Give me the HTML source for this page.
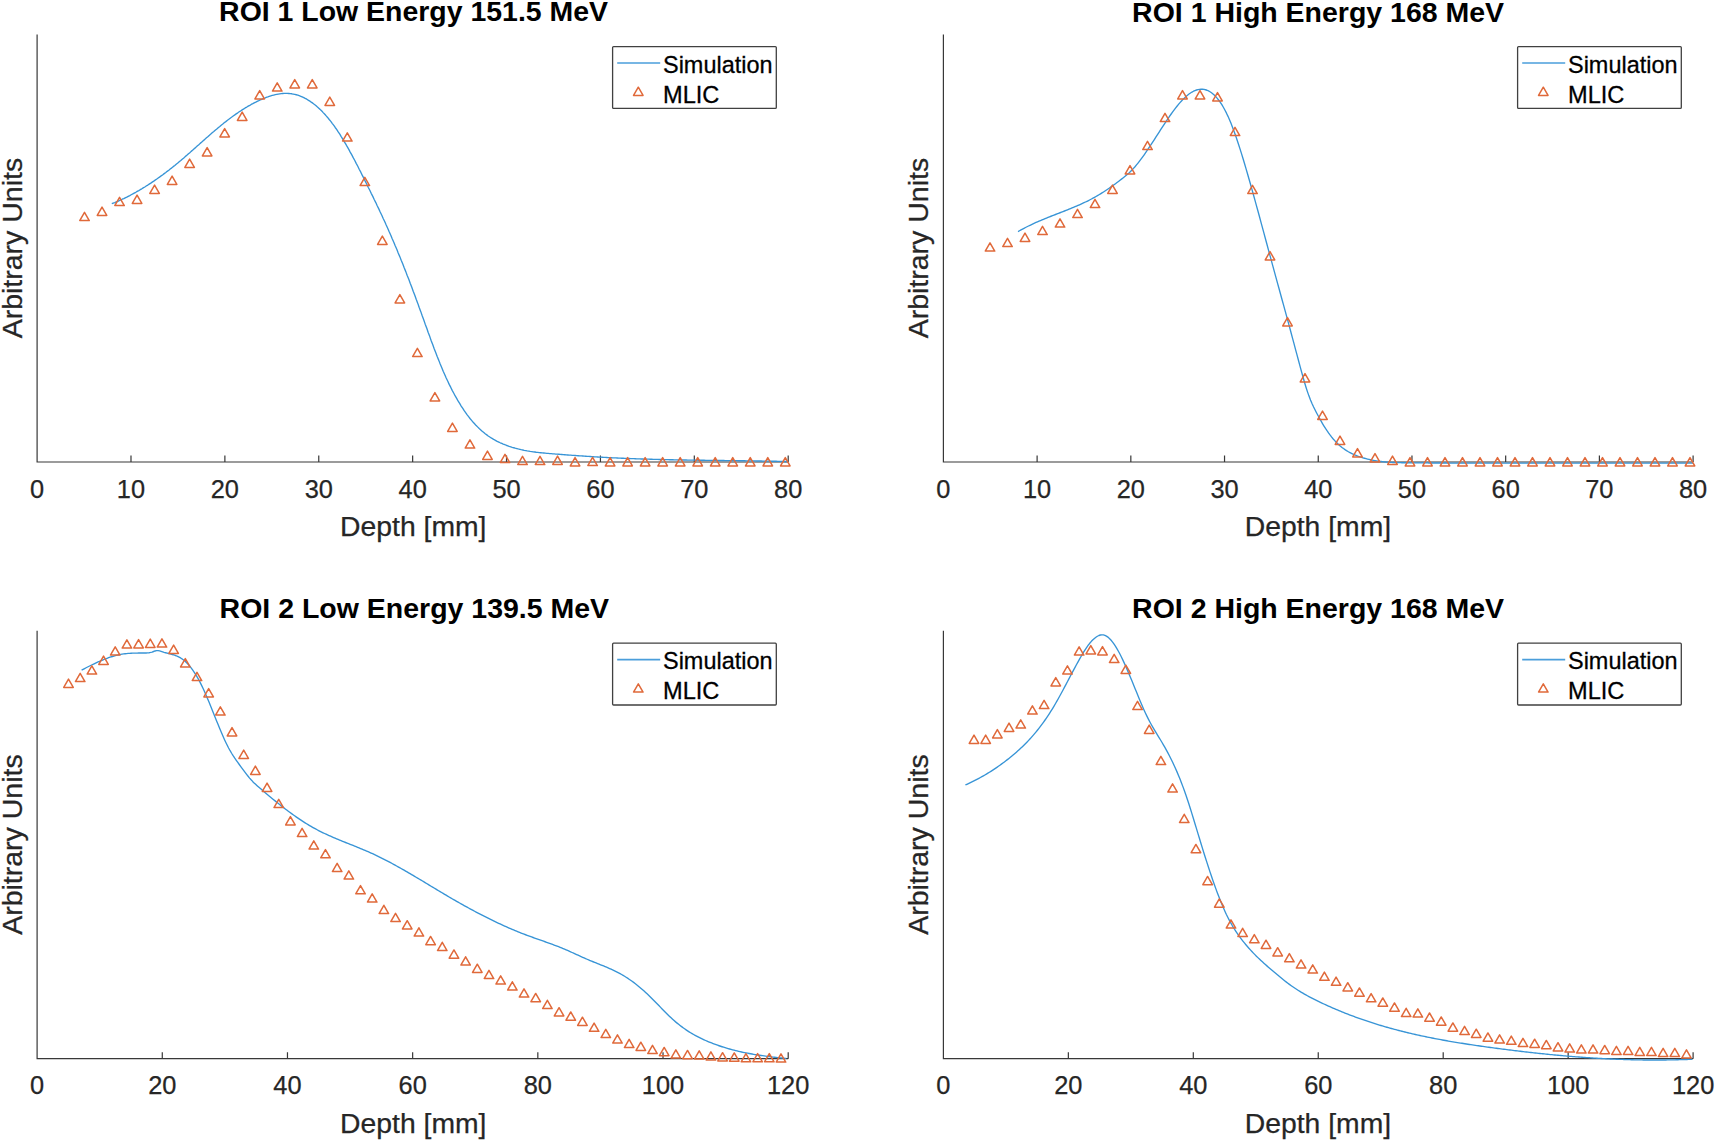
<!DOCTYPE html>
<html lang="en"><head><meta charset="utf-8"><title>Depth dose curves: Simulation vs MLIC</title>
<style>html,body{margin:0;padding:0;background:#fff;}body{width:1716px;height:1140px;overflow:hidden;}svg{display:block;}text{font-family:"Liberation Sans", sans-serif;}.tk{font-size:25.4px;fill:#262626;text-anchor:middle;stroke:#262626;stroke-width:0.25;}.lb{font-size:27.5px;fill:#262626;text-anchor:middle;stroke:#262626;stroke-width:0.25;}.tt{font-size:27.5px;font-weight:bold;fill:#000;}.lg{font-size:24.5px;fill:#000;stroke:#000;stroke-width:0.3;}.ll{stroke:#4a9edb;stroke-width:1.7;fill:none;}.ax{stroke:#383838;stroke-width:1.2;fill:none;}.cv{stroke:#3794d6;stroke-width:1.35;fill:none;stroke-linejoin:round;}.mk{stroke:#e0693a;stroke-width:1.5;fill:none;stroke-linejoin:round;}</style></head><body>
<svg width="1716" height="1140" viewBox="0 0 1716 1140">
<rect width="1716" height="1140" fill="#fff"/>
<g>
<path class="ax" d="M37.10 34.50 V462.00 H788.20"/>
<path class="ax" d="M130.99 462.00 v-6.5M224.88 462.00 v-6.5M318.76 462.00 v-6.5M412.65 462.00 v-6.5M506.54 462.00 v-6.5M600.43 462.00 v-6.5M694.31 462.00 v-6.5M788.20 462.00 v-6.5"/>
<text class="tk" x="37.10" y="497.60">0</text>
<text class="tk" x="130.99" y="497.60">10</text>
<text class="tk" x="224.88" y="497.60">20</text>
<text class="tk" x="318.76" y="497.60">30</text>
<text class="tk" x="412.65" y="497.60">40</text>
<text class="tk" x="506.54" y="497.60">50</text>
<text class="tk" x="600.43" y="497.60">60</text>
<text class="tk" x="694.31" y="497.60">70</text>
<text class="tk" x="788.20" y="497.60">80</text>
<text class="lb" x="413.25" y="536.30" textLength="146.4" lengthAdjust="spacingAndGlyphs">Depth [mm]</text>
<text class="lb" transform="translate(22.10 248.05) rotate(-90)" textLength="180.5" lengthAdjust="spacingAndGlyphs">Arbitrary Units</text>
<text class="tt" x="219.10" y="21.30" textLength="389.0" lengthAdjust="spacingAndGlyphs">ROI 1 Low Energy 151.5 MeV</text>
<path class="cv" d="M111.8 203.74L113.2 203.15L114.8 202.54L116.2 201.91L117.8 201.27L119.2 200.61L120.8 199.93L122.2 199.24L123.8 198.53L125.2 197.81L126.8 197.07L128.2 196.31L129.8 195.54L131.2 194.75L132.8 193.95L134.2 193.13L135.8 192.29L137.2 191.44L138.8 190.58L140.2 189.70L141.8 188.80L143.2 187.89L144.8 186.96L146.2 186.02L147.8 185.07L149.2 184.10L150.8 183.11L152.2 182.11L153.8 181.10L155.2 180.07L156.8 179.03L158.2 177.97L159.8 176.90L161.2 175.82L162.8 174.72L164.2 173.60L165.8 172.48L167.2 171.34L168.8 170.18L170.2 169.02L171.8 167.84L173.2 166.64L174.8 165.44L176.2 164.22L177.8 162.98L179.2 161.74L180.8 160.48L182.2 159.21L183.8 157.93L185.2 156.63L186.8 155.33L188.2 154.02L189.8 152.70L191.2 151.38L192.8 150.05L194.2 148.72L195.8 147.38L197.2 146.05L198.8 144.71L200.2 143.37L201.8 142.03L203.2 140.70L204.8 139.37L206.2 138.04L207.8 136.72L209.2 135.40L210.8 134.09L212.2 132.79L213.8 131.50L215.2 130.22L216.8 128.95L218.2 127.69L219.8 126.44L221.2 125.21L222.8 124.00L224.2 122.80L225.8 121.62L227.2 120.46L228.8 119.31L230.2 118.18L231.8 117.07L233.2 115.98L234.8 114.90L236.2 113.85L237.8 112.81L239.2 111.80L240.8 110.81L242.2 109.83L243.8 108.88L245.2 107.95L246.8 107.05L248.2 106.16L249.8 105.30L251.2 104.46L252.8 103.65L254.2 102.86L255.8 102.09L257.2 101.35L258.8 100.64L260.2 99.95L261.8 99.29L263.2 98.65L264.8 98.04L266.2 97.46L267.8 96.91L269.2 96.39L270.8 95.90L272.2 95.45L273.8 95.04L275.2 94.67L276.8 94.34L278.2 94.05L279.8 93.82L281.2 93.62L282.8 93.48L284.2 93.39L285.8 93.36L287.2 93.38L288.8 93.46L290.2 93.59L291.8 93.79L293.2 94.05L294.8 94.38L296.2 94.76L297.8 95.21L299.2 95.72L300.8 96.29L302.2 96.92L303.8 97.62L305.2 98.39L306.8 99.21L308.2 100.10L309.8 101.06L311.2 102.08L312.8 103.17L314.2 104.32L315.8 105.53L317.2 106.82L318.8 108.17L320.2 109.58L321.8 111.07L323.2 112.62L324.8 114.24L326.2 115.92L327.8 117.68L329.2 119.50L330.8 121.39L332.2 123.36L333.8 125.39L335.2 127.49L336.8 129.66L338.2 131.90L339.8 134.21L341.2 136.58L342.8 139.02L344.2 141.52L345.8 144.08L347.2 146.70L348.8 149.36L350.2 152.08L351.8 154.83L353.2 157.64L354.8 160.48L356.2 163.35L357.8 166.26L359.2 169.21L360.8 172.17L362.2 175.16L363.8 178.17L365.2 181.18L366.8 184.21L368.2 187.24L369.8 190.28L371.2 193.33L372.8 196.40L374.2 199.48L375.8 202.59L377.2 205.72L378.8 208.87L380.2 212.05L381.8 215.26L383.2 218.50L384.8 221.77L386.2 225.08L387.8 228.43L389.2 231.82L390.8 235.24L392.2 238.71L393.8 242.21L395.2 245.76L396.8 249.34L398.2 252.96L399.8 256.62L401.2 260.32L402.8 264.05L404.2 267.82L405.8 271.63L407.2 275.47L408.8 279.35L410.2 283.27L411.8 287.22L413.2 291.21L414.8 295.23L416.2 299.29L417.8 303.38L419.2 307.50L420.8 311.65L422.2 315.81L423.8 319.99L425.2 324.16L426.8 328.33L428.2 332.47L429.8 336.60L431.2 340.69L432.8 344.74L434.2 348.74L435.8 352.69L437.2 356.56L438.8 360.37L440.2 364.09L441.8 367.72L443.2 371.26L444.8 374.69L446.2 378.02L447.8 381.25L449.2 384.39L450.8 387.42L452.2 390.37L453.8 393.22L455.2 395.97L456.8 398.64L458.2 401.21L459.8 403.70L461.2 406.10L462.8 408.41L464.2 410.64L465.8 412.79L467.2 414.85L468.8 416.84L470.2 418.74L471.8 420.57L473.2 422.32L474.8 424.00L476.2 425.60L477.8 427.13L479.2 428.59L480.8 429.97L482.2 431.30L483.8 432.55L485.2 433.74L486.8 434.88L488.2 435.95L489.8 436.97L491.2 437.94L492.8 438.85L494.2 439.72L495.8 440.55L497.2 441.33L498.8 442.07L500.2 442.77L501.8 443.44L503.2 444.07L504.8 444.67L506.2 445.25L507.8 445.80L509.2 446.32L510.8 446.82L512.2 447.29L513.8 447.74L515.2 448.17L516.8 448.58L518.2 448.96L519.8 449.32L521.2 449.67L522.8 449.99L524.2 450.30L525.8 450.59L527.2 450.87L528.8 451.13L530.2 451.37L531.8 451.60L533.2 451.82L534.8 452.02L536.2 452.22L537.8 452.40L539.2 452.57L540.8 452.74L542.2 452.89L543.8 453.04L545.2 453.18L546.8 453.32L548.2 453.45L549.8 453.57L551.2 453.70L552.8 453.82L554.2 453.94L555.8 454.05L557.2 454.17L558.8 454.29L560.2 454.40L561.8 454.52L563.2 454.63L564.8 454.75L566.2 454.86L567.8 454.97L569.2 455.08L570.8 455.19L572.2 455.30L573.8 455.41L575.2 455.52L576.8 455.62L578.2 455.73L579.8 455.83L581.2 455.94L582.8 456.04L584.2 456.14L585.8 456.24L587.2 456.34L588.8 456.44L590.2 456.53L591.8 456.63L593.2 456.72L594.8 456.81L596.2 456.91L597.8 457.00L599.2 457.08L600.8 457.17L602.2 457.25L603.8 457.34L605.2 457.42L606.8 457.50L608.2 457.58L609.8 457.66L611.2 457.73L612.8 457.81L614.2 457.88L615.8 457.95L617.2 458.02L618.8 458.09L620.2 458.16L621.8 458.22L623.2 458.29L624.8 458.35L626.2 458.41L627.8 458.47L629.2 458.53L630.8 458.59L632.2 458.65L633.8 458.70L635.2 458.76L636.8 458.81L638.2 458.86L639.8 458.91L641.2 458.96L642.8 459.01L644.2 459.06L645.8 459.10L647.2 459.15L648.8 459.19L650.2 459.24L651.8 459.28L653.2 459.32L654.8 459.36L656.2 459.40L657.8 459.44L659.2 459.48L660.8 459.51L662.2 459.55L663.8 459.58L665.2 459.62L666.8 459.65L668.2 459.68L669.8 459.72L671.2 459.75L672.8 459.78L674.2 459.81L675.8 459.84L677.2 459.86L678.8 459.89L680.2 459.92L681.8 459.95L683.2 459.97L684.8 460.00L686.2 460.02L687.8 460.05L689.2 460.07L690.8 460.09L692.2 460.12L693.8 460.14L695.2 460.16L696.8 460.18L698.2 460.21L699.8 460.23L701.2 460.25L702.8 460.27L704.2 460.29L705.8 460.31L707.2 460.33L708.8 460.35L710.2 460.37L711.8 460.39L713.2 460.40L714.8 460.42L716.2 460.44L717.8 460.46L719.2 460.48L720.8 460.50L722.2 460.51L723.8 460.53L725.2 460.55L726.8 460.57L728.2 460.59L729.8 460.60L731.2 460.62L732.8 460.64L734.2 460.66L735.8 460.68L737.2 460.70L738.8 460.72L740.2 460.73L741.8 460.75L743.2 460.77L744.8 460.79L746.2 460.81L747.8 460.83L749.2 460.85L750.8 460.87L752.2 460.89L753.8 460.92L755.2 460.94L756.8 460.96L758.2 460.98L759.8 461.01L761.2 461.03L762.8 461.05L764.2 461.08L765.8 461.10L767.2 461.13L768.8 461.15L770.2 461.18L771.8 461.21L773.2 461.24L774.8 461.26L776.2 461.29L777.8 461.32L779.2 461.35L780.8 461.38L782.2 461.42L783.8 461.45L785.2 461.48L786.8 461.52L787.5 461.53"/>
<path class="mk" d="M84.50 212.38 L89.26 220.62 L79.74 220.62 ZM102.02 207.12 L106.78 215.38 L97.26 215.38 ZM119.54 197.38 L124.30 205.62 L114.78 205.62 ZM137.06 195.12 L141.82 203.38 L132.30 203.38 ZM154.58 185.12 L159.34 193.38 L149.82 193.38 ZM172.10 176.12 L176.86 184.38 L167.34 184.38 ZM189.62 159.12 L194.38 167.38 L184.86 167.38 ZM207.14 147.62 L211.90 155.88 L202.38 155.88 ZM224.66 128.62 L229.42 136.88 L219.90 136.88 ZM242.18 112.12 L246.94 120.38 L237.42 120.38 ZM259.70 90.62 L264.46 98.88 L254.94 98.88 ZM277.22 82.88 L281.98 91.12 L272.46 91.12 ZM294.74 79.62 L299.50 87.88 L289.98 87.88 ZM312.26 79.62 L317.02 87.88 L307.50 87.88 ZM329.78 97.12 L334.54 105.38 L325.02 105.38 ZM347.30 132.88 L352.06 141.12 L342.54 141.12 ZM364.82 177.38 L369.58 185.62 L360.06 185.62 ZM382.34 236.12 L387.10 244.38 L377.58 244.38 ZM399.86 294.62 L404.62 302.88 L395.10 302.88 ZM417.38 348.38 L422.14 356.62 L412.62 356.62 ZM434.90 392.62 L439.66 400.88 L430.14 400.88 ZM452.42 423.12 L457.18 431.38 L447.66 431.38 ZM469.94 439.88 L474.70 448.12 L465.18 448.12 ZM487.46 451.12 L492.22 459.38 L482.70 459.38 ZM504.98 454.38 L509.74 462.62 L500.22 462.62 ZM522.50 456.38 L527.26 464.62 L517.74 464.62 ZM540.02 456.38 L544.78 464.62 L535.26 464.62 ZM557.54 456.12 L562.30 464.38 L552.78 464.38 ZM575.06 457.62 L579.82 465.88 L570.30 465.88 ZM592.58 457.38 L597.34 465.62 L587.82 465.62 ZM610.10 457.62 L614.86 465.88 L605.34 465.88 ZM627.62 457.62 L632.38 465.88 L622.86 465.88 ZM645.14 457.62 L649.90 465.88 L640.38 465.88 ZM662.66 457.62 L667.42 465.88 L657.90 465.88 ZM680.18 457.62 L684.94 465.88 L675.42 465.88 ZM697.70 457.62 L702.46 465.88 L692.94 465.88 ZM715.22 457.62 L719.98 465.88 L710.46 465.88 ZM732.74 457.62 L737.50 465.88 L727.98 465.88 ZM750.26 457.62 L755.02 465.88 L745.50 465.88 ZM767.78 457.62 L772.54 465.88 L763.02 465.88 ZM785.30 457.62 L790.06 465.88 L780.54 465.88 Z"/>
<rect x="612.60" y="46.60" width="163.7" height="61.8" rx="1" fill="#fff" stroke="#404040" stroke-width="1.3"/>
<path class="ll" d="M617.20 63.00 h43"/>
<path class="mk" d="M638.30 87.18 L643.06 95.43 L633.54 95.43 Z"/>
<text class="lg" x="663.00" y="72.60" textLength="109.5" lengthAdjust="spacingAndGlyphs">Simulation</text>
<text class="lg" x="663.00" y="102.60" textLength="56.3" lengthAdjust="spacingAndGlyphs">MLIC</text>
</g>
<g>
<path class="ax" d="M943.40 34.50 V462.00 H1693.10"/>
<path class="ax" d="M1037.11 462.00 v-6.5M1130.83 462.00 v-6.5M1224.54 462.00 v-6.5M1318.25 462.00 v-6.5M1411.96 462.00 v-6.5M1505.67 462.00 v-6.5M1599.39 462.00 v-6.5M1693.10 462.00 v-6.5"/>
<text class="tk" x="943.40" y="497.60">0</text>
<text class="tk" x="1037.11" y="497.60">10</text>
<text class="tk" x="1130.83" y="497.60">20</text>
<text class="tk" x="1224.54" y="497.60">30</text>
<text class="tk" x="1318.25" y="497.60">40</text>
<text class="tk" x="1411.96" y="497.60">50</text>
<text class="tk" x="1505.67" y="497.60">60</text>
<text class="tk" x="1599.39" y="497.60">70</text>
<text class="tk" x="1693.10" y="497.60">80</text>
<text class="lb" x="1317.95" y="536.30" textLength="146.4" lengthAdjust="spacingAndGlyphs">Depth [mm]</text>
<text class="lb" transform="translate(928.40 248.05) rotate(-90)" textLength="180.5" lengthAdjust="spacingAndGlyphs">Arbitrary Units</text>
<text class="tt" x="1132.10" y="21.90" textLength="372.0" lengthAdjust="spacingAndGlyphs">ROI 1 High Energy 168 MeV</text>
<path class="cv" d="M1018.0 231.65L1019.5 230.78L1021.0 229.94L1022.5 229.11L1024.0 228.31L1025.5 227.52L1027.0 226.76L1028.5 226.00L1030.0 225.27L1031.5 224.55L1033.0 223.85L1034.5 223.16L1036.0 222.48L1037.5 221.82L1039.0 221.17L1040.5 220.52L1042.0 219.89L1043.5 219.27L1045.0 218.65L1046.5 218.04L1048.0 217.44L1049.5 216.84L1051.0 216.25L1052.5 215.66L1054.0 215.08L1055.5 214.50L1057.0 213.91L1058.5 213.33L1060.0 212.75L1061.5 212.17L1063.0 211.59L1064.5 211.00L1066.0 210.41L1067.5 209.81L1069.0 209.21L1070.5 208.60L1072.0 207.99L1073.5 207.37L1075.0 206.74L1076.5 206.10L1078.0 205.45L1079.5 204.79L1081.0 204.11L1082.5 203.42L1084.0 202.72L1085.5 202.01L1087.0 201.28L1088.5 200.53L1090.0 199.77L1091.5 198.99L1093.0 198.19L1094.5 197.36L1096.0 196.52L1097.5 195.66L1099.0 194.78L1100.5 193.87L1102.0 192.94L1103.5 191.99L1105.0 191.01L1106.5 190.02L1108.0 189.01L1109.5 187.97L1111.0 186.92L1112.5 185.85L1114.0 184.77L1115.5 183.67L1117.0 182.55L1118.5 181.42L1120.0 180.28L1121.5 179.13L1123.0 177.96L1124.5 176.77L1126.0 175.53L1127.5 174.25L1129.0 172.90L1130.5 171.48L1132.0 169.98L1133.5 168.38L1135.0 166.69L1136.5 164.92L1138.0 163.08L1139.5 161.16L1141.0 159.18L1142.5 157.14L1144.0 155.04L1145.5 152.90L1147.0 150.71L1148.5 148.48L1150.0 146.22L1151.5 143.94L1153.0 141.63L1154.5 139.30L1156.0 136.97L1157.5 134.63L1159.0 132.29L1160.5 129.95L1162.0 127.63L1163.5 125.32L1165.0 123.04L1166.5 120.79L1168.0 118.56L1169.5 116.38L1171.0 114.24L1172.5 112.15L1174.0 110.12L1175.5 108.15L1177.0 106.24L1178.5 104.41L1180.0 102.65L1181.5 100.98L1183.0 99.39L1184.5 97.90L1186.0 96.51L1187.5 95.22L1189.0 94.04L1190.5 92.98L1192.0 92.04L1193.5 91.23L1195.0 90.55L1196.5 90.00L1198.0 89.59L1199.5 89.32L1201.0 89.20L1202.5 89.23L1204.0 89.41L1205.5 89.75L1207.0 90.25L1208.5 90.91L1210.0 91.74L1211.5 92.75L1213.0 93.93L1214.5 95.30L1216.0 96.85L1217.5 98.58L1219.0 100.51L1220.5 102.64L1222.0 104.96L1223.5 107.49L1225.0 110.23L1226.5 113.17L1228.0 116.34L1229.5 119.72L1231.0 123.32L1232.5 127.13L1234.0 131.14L1235.5 135.33L1237.0 139.69L1238.5 144.20L1240.0 148.86L1241.5 153.64L1243.0 158.53L1244.5 163.53L1246.0 168.62L1247.5 173.77L1249.0 178.99L1250.5 184.26L1252.0 189.59L1253.5 194.96L1255.0 200.37L1256.5 205.81L1258.0 211.29L1259.5 216.79L1261.0 222.32L1262.5 227.85L1264.0 233.40L1265.5 238.96L1267.0 244.51L1268.5 250.07L1270.0 255.61L1271.5 261.14L1273.0 266.65L1274.5 272.14L1276.0 277.61L1277.5 283.08L1279.0 288.54L1280.5 293.99L1282.0 299.45L1283.5 304.91L1285.0 310.39L1286.5 315.88L1288.0 321.38L1289.5 326.92L1291.0 332.48L1292.5 338.07L1294.0 343.69L1295.5 349.31L1297.0 354.93L1298.5 360.52L1300.0 366.08L1301.5 371.59L1303.0 377.00L1304.5 382.24L1306.0 387.22L1307.5 391.87L1309.0 396.11L1310.5 399.97L1312.0 403.50L1313.5 406.76L1315.0 409.81L1316.5 412.71L1318.0 415.52L1319.5 418.26L1321.0 420.94L1322.5 423.54L1324.0 426.04L1325.5 428.45L1327.0 430.74L1328.5 432.91L1330.0 434.96L1331.5 436.89L1333.0 438.70L1334.5 440.40L1336.0 442.00L1337.5 443.50L1339.0 444.89L1340.5 446.20L1342.0 447.42L1343.5 448.56L1345.0 449.62L1346.5 450.60L1348.0 451.52L1349.5 452.37L1351.0 453.15L1352.5 453.89L1354.0 454.57L1355.5 455.21L1357.0 455.80L1358.5 456.36L1360.0 456.88L1361.5 457.37L1363.0 457.83L1364.5 458.27L1366.0 458.68L1367.5 459.06L1369.0 459.42L1370.5 459.76L1372.0 460.07L1373.5 460.35L1375.0 460.62L1376.5 460.87L1378.0 461.09L1379.5 461.30L1381.0 461.49L1382.5 461.66L1384.0 461.82L1385.5 461.96L1387.0 462.08L1388.5 462.19L1390.0 462.29L1391.5 462.38L1393.0 462.46L1394.5 462.52L1396.0 462.58L1397.5 462.63L1399.0 462.67L1400.5 462.70L1402.0 462.73L1403.5 462.75L1405.0 462.77L1406.5 462.79L1408.0 462.80L1409.5 462.81L1411.0 462.83L1412.5 462.84L1414.0 462.85L1415.5 462.86L1417.0 462.87L1418.5 462.88L1420.0 462.89L1421.5 462.90L1423.0 462.91L1424.5 462.92L1426.0 462.93L1427.5 462.94L1429.0 462.95L1430.5 462.96L1432.0 462.97L1433.5 462.97L1435.0 462.98L1436.5 462.99L1438.0 463.00L1439.5 463.00L1441.0 463.01L1442.5 463.02L1444.0 463.03L1445.5 463.03L1447.0 463.04L1448.5 463.04L1450.0 463.05L1451.5 463.06L1453.0 463.06L1454.5 463.07L1456.0 463.07L1457.5 463.08L1459.0 463.08L1460.5 463.09L1462.0 463.09L1463.5 463.10L1465.0 463.10L1466.5 463.10L1468.0 463.11L1469.5 463.11L1471.0 463.12L1472.5 463.12L1474.0 463.12L1475.5 463.13L1477.0 463.13L1478.5 463.13L1480.0 463.13L1481.5 463.14L1483.0 463.14L1484.5 463.14L1486.0 463.14L1487.5 463.14L1489.0 463.15L1490.5 463.15L1492.0 463.15L1493.5 463.15L1495.0 463.15L1496.5 463.15L1498.0 463.16L1499.5 463.16L1501.0 463.16L1502.5 463.16L1504.0 463.16L1505.5 463.16L1507.0 463.16L1508.5 463.16L1510.0 463.16L1511.5 463.16L1513.0 463.16L1514.5 463.16L1516.0 463.16L1517.5 463.16L1519.0 463.16L1520.5 463.16L1522.0 463.16L1523.5 463.16L1525.0 463.16L1526.5 463.16L1528.0 463.16L1529.5 463.15L1531.0 463.15L1532.5 463.15L1534.0 463.15L1535.5 463.15L1537.0 463.15L1538.5 463.15L1540.0 463.15L1541.5 463.15L1543.0 463.14L1544.5 463.14L1546.0 463.14L1547.5 463.14L1549.0 463.14L1550.5 463.14L1552.0 463.13L1553.5 463.13L1555.0 463.13L1556.5 463.13L1558.0 463.13L1559.5 463.13L1561.0 463.12L1562.5 463.12L1564.0 463.12L1565.5 463.12L1567.0 463.12L1568.5 463.11L1570.0 463.11L1571.5 463.11L1573.0 463.11L1574.5 463.11L1576.0 463.11L1577.5 463.10L1579.0 463.10L1580.5 463.10L1582.0 463.10L1583.5 463.10L1585.0 463.09L1586.5 463.09L1588.0 463.09L1589.5 463.09L1591.0 463.09L1592.5 463.08L1594.0 463.08L1595.5 463.08L1597.0 463.08L1598.5 463.08L1600.0 463.08L1601.5 463.07L1603.0 463.07L1604.5 463.07L1606.0 463.07L1607.5 463.07L1609.0 463.07L1610.5 463.07L1612.0 463.07L1613.5 463.06L1615.0 463.06L1616.5 463.06L1618.0 463.06L1619.5 463.06L1621.0 463.06L1622.5 463.06L1624.0 463.06L1625.5 463.06L1627.0 463.06L1628.5 463.06L1630.0 463.06L1631.5 463.06L1633.0 463.06L1634.5 463.05L1636.0 463.05L1637.5 463.05L1639.0 463.06L1640.5 463.06L1642.0 463.06L1643.5 463.06L1645.0 463.06L1646.5 463.06L1648.0 463.06L1649.5 463.06L1651.0 463.06L1652.5 463.06L1654.0 463.06L1655.5 463.06L1657.0 463.07L1658.5 463.07L1660.0 463.07L1661.5 463.07L1663.0 463.07L1664.5 463.07L1666.0 463.08L1667.5 463.08L1669.0 463.08L1670.5 463.08L1672.0 463.09L1673.5 463.09L1675.0 463.09L1676.5 463.10L1678.0 463.10L1679.5 463.10L1681.0 463.11L1682.5 463.11L1684.0 463.12L1685.5 463.12L1687.0 463.12L1688.5 463.13L1690.0 463.13L1691.5 463.14L1693.0 463.14"/>
<path class="mk" d="M990.00 242.88 L994.76 251.12 L985.24 251.12 ZM1007.50 238.38 L1012.26 246.62 L1002.74 246.62 ZM1025.00 233.12 L1029.76 241.38 L1020.24 241.38 ZM1042.50 226.38 L1047.26 234.62 L1037.74 234.62 ZM1060.00 218.88 L1064.76 227.12 L1055.24 227.12 ZM1077.50 209.38 L1082.26 217.62 L1072.74 217.62 ZM1095.00 199.38 L1099.76 207.62 L1090.24 207.62 ZM1112.50 185.12 L1117.26 193.38 L1107.74 193.38 ZM1130.00 165.62 L1134.76 173.88 L1125.24 173.88 ZM1147.50 141.38 L1152.26 149.62 L1142.74 149.62 ZM1165.00 113.38 L1169.76 121.62 L1160.24 121.62 ZM1182.50 90.62 L1187.26 98.88 L1177.74 98.88 ZM1200.00 90.62 L1204.76 98.88 L1195.24 98.88 ZM1217.50 92.62 L1222.26 100.88 L1212.74 100.88 ZM1235.00 127.38 L1239.76 135.62 L1230.24 135.62 ZM1252.50 185.38 L1257.26 193.62 L1247.74 193.62 ZM1270.00 251.62 L1274.76 259.88 L1265.24 259.88 ZM1287.50 317.62 L1292.26 325.88 L1282.74 325.88 ZM1305.00 373.62 L1309.76 381.88 L1300.24 381.88 ZM1322.50 411.12 L1327.26 419.38 L1317.74 419.38 ZM1340.00 436.12 L1344.76 444.38 L1335.24 444.38 ZM1357.50 448.62 L1362.26 456.88 L1352.74 456.88 ZM1375.00 453.62 L1379.76 461.88 L1370.24 461.88 ZM1392.50 456.12 L1397.26 464.38 L1387.74 464.38 ZM1410.00 457.62 L1414.76 465.88 L1405.24 465.88 ZM1427.50 457.62 L1432.26 465.88 L1422.74 465.88 ZM1445.00 457.62 L1449.76 465.88 L1440.24 465.88 ZM1462.50 457.62 L1467.26 465.88 L1457.74 465.88 ZM1480.00 457.62 L1484.76 465.88 L1475.24 465.88 ZM1497.50 457.62 L1502.26 465.88 L1492.74 465.88 ZM1515.00 457.62 L1519.76 465.88 L1510.24 465.88 ZM1532.50 457.62 L1537.26 465.88 L1527.74 465.88 ZM1550.00 457.62 L1554.76 465.88 L1545.24 465.88 ZM1567.50 457.62 L1572.26 465.88 L1562.74 465.88 ZM1585.00 457.62 L1589.76 465.88 L1580.24 465.88 ZM1602.50 457.62 L1607.26 465.88 L1597.74 465.88 ZM1620.00 457.62 L1624.76 465.88 L1615.24 465.88 ZM1637.50 457.62 L1642.26 465.88 L1632.74 465.88 ZM1655.00 457.62 L1659.76 465.88 L1650.24 465.88 ZM1672.50 457.62 L1677.26 465.88 L1667.74 465.88 ZM1690.00 457.62 L1694.76 465.88 L1685.24 465.88 Z"/>
<rect x="1517.60" y="46.60" width="163.7" height="61.8" rx="1" fill="#fff" stroke="#404040" stroke-width="1.3"/>
<path class="ll" d="M1522.20 63.00 h43"/>
<path class="mk" d="M1543.30 87.18 L1548.06 95.43 L1538.54 95.43 Z"/>
<text class="lg" x="1568.00" y="72.60" textLength="109.5" lengthAdjust="spacingAndGlyphs">Simulation</text>
<text class="lg" x="1568.00" y="102.60" textLength="56.3" lengthAdjust="spacingAndGlyphs">MLIC</text>
</g>
<g>
<path class="ax" d="M37.10 630.80 V1058.70 H788.20"/>
<path class="ax" d="M162.28 1058.70 v-6.5M287.47 1058.70 v-6.5M412.65 1058.70 v-6.5M537.83 1058.70 v-6.5M663.02 1058.70 v-6.5M788.20 1058.70 v-6.5"/>
<text class="tk" x="37.10" y="1094.30">0</text>
<text class="tk" x="162.28" y="1094.30">20</text>
<text class="tk" x="287.47" y="1094.30">40</text>
<text class="tk" x="412.65" y="1094.30">60</text>
<text class="tk" x="537.83" y="1094.30">80</text>
<text class="tk" x="663.02" y="1094.30">100</text>
<text class="tk" x="788.20" y="1094.30">120</text>
<text class="lb" x="413.25" y="1133.00" textLength="146.4" lengthAdjust="spacingAndGlyphs">Depth [mm]</text>
<text class="lb" transform="translate(22.10 844.55) rotate(-90)" textLength="180.5" lengthAdjust="spacingAndGlyphs">Arbitrary Units</text>
<text class="tt" x="219.60" y="618.10" textLength="389.5" lengthAdjust="spacingAndGlyphs">ROI 2 Low Energy 139.5 MeV</text>
<path class="cv" d="M81.6 670.10L83.1 669.31L84.6 668.54L86.1 667.76L87.6 667.00L89.1 666.24L90.6 665.50L92.1 664.76L93.6 664.04L95.1 663.33L96.6 662.64L98.1 661.96L99.6 661.29L101.1 660.65L102.6 660.02L104.1 659.42L105.6 658.83L107.1 658.27L108.6 657.73L110.1 657.22L111.6 656.73L113.1 656.28L114.6 655.84L116.1 655.44L117.6 655.07L119.1 654.74L120.6 654.43L122.1 654.16L123.6 653.93L125.1 653.73L126.6 653.56L128.1 653.42L129.6 653.31L131.1 653.23L132.6 653.16L134.1 653.11L135.6 653.08L137.1 653.05L138.6 653.04L140.1 653.03L141.6 653.02L143.1 653.01L144.6 653.00L146.1 652.97L147.6 652.90L149.1 652.73L150.6 652.46L152.1 652.03L153.6 651.49L155.1 650.98L156.6 650.65L158.1 650.64L159.6 650.89L161.1 651.32L162.6 651.82L164.1 652.31L165.6 652.74L167.1 653.14L168.6 653.52L170.1 653.90L171.6 654.30L173.1 654.73L174.6 655.21L176.1 655.75L177.6 656.38L179.1 657.11L180.6 657.96L182.1 658.94L183.6 660.06L185.1 661.33L186.6 662.74L188.1 664.30L189.6 666.01L191.1 667.87L192.6 669.89L194.1 672.06L195.6 674.39L197.1 676.88L198.6 679.54L200.1 682.36L201.6 685.35L203.1 688.49L204.6 691.79L206.1 695.20L207.6 698.72L209.1 702.32L210.6 705.99L212.1 709.70L213.6 713.44L215.1 717.18L216.6 720.91L218.1 724.61L219.6 728.26L221.1 731.83L222.6 735.32L224.1 738.69L225.6 741.94L227.1 745.03L228.6 747.96L230.1 750.70L231.6 753.25L233.1 755.65L234.6 757.92L236.1 760.08L237.6 762.18L239.1 764.24L240.6 766.29L242.1 768.34L243.6 770.38L245.1 772.40L246.6 774.37L248.1 776.27L249.6 778.09L251.1 779.80L252.6 781.40L254.1 782.90L255.6 784.33L257.1 785.70L258.6 787.02L260.1 788.31L261.6 789.60L263.1 790.88L264.6 792.15L266.1 793.42L267.6 794.68L269.1 795.94L270.6 797.19L272.1 798.43L273.6 799.66L275.1 800.89L276.6 802.10L278.1 803.31L279.6 804.50L281.1 805.69L282.6 806.86L284.1 808.03L285.6 809.18L287.1 810.32L288.6 811.44L290.1 812.56L291.6 813.65L293.1 814.74L294.6 815.81L296.1 816.86L297.6 817.90L299.1 818.92L300.6 819.93L302.1 820.92L303.6 821.89L305.1 822.84L306.6 823.77L308.1 824.69L309.6 825.58L311.1 826.45L312.6 827.31L314.1 828.14L315.6 828.96L317.1 829.75L318.6 830.53L320.1 831.30L321.6 832.04L323.1 832.77L324.6 833.49L326.1 834.20L327.6 834.89L329.1 835.57L330.6 836.24L332.1 836.90L333.6 837.55L335.1 838.19L336.6 838.82L338.1 839.45L339.6 840.06L341.1 840.68L342.6 841.29L344.1 841.89L345.6 842.50L347.1 843.10L348.6 843.69L350.1 844.29L351.6 844.89L353.1 845.49L354.6 846.09L356.1 846.69L357.6 847.30L359.1 847.91L360.6 848.52L362.1 849.15L363.6 849.77L365.1 850.41L366.6 851.05L368.1 851.70L369.6 852.36L371.1 853.03L372.6 853.72L374.1 854.41L375.6 855.12L377.1 855.83L378.6 856.56L380.1 857.29L381.6 858.04L383.1 858.79L384.6 859.56L386.1 860.33L387.6 861.11L389.1 861.90L390.6 862.70L392.1 863.51L393.6 864.32L395.1 865.14L396.6 865.97L398.1 866.80L399.6 867.64L401.1 868.49L402.6 869.34L404.1 870.20L405.6 871.06L407.1 871.93L408.6 872.80L410.1 873.67L411.6 874.55L413.1 875.43L414.6 876.32L416.1 877.21L417.6 878.10L419.1 879.00L420.6 879.89L422.1 880.79L423.6 881.69L425.1 882.60L426.6 883.50L428.1 884.40L429.6 885.31L431.1 886.21L432.6 887.11L434.1 888.02L435.6 888.92L437.1 889.82L438.6 890.72L440.1 891.62L441.6 892.52L443.1 893.41L444.6 894.30L446.1 895.19L447.6 896.08L449.1 896.96L450.6 897.84L452.1 898.71L453.6 899.58L455.1 900.45L456.6 901.31L458.1 902.17L459.6 903.02L461.1 903.87L462.6 904.71L464.1 905.55L465.6 906.38L467.1 907.21L468.6 908.03L470.1 908.85L471.6 909.66L473.1 910.46L474.6 911.26L476.1 912.06L477.6 912.85L479.1 913.63L480.6 914.41L482.1 915.19L483.6 915.95L485.1 916.71L486.6 917.47L488.1 918.22L489.6 918.96L491.1 919.70L492.6 920.43L494.1 921.15L495.6 921.87L497.1 922.58L498.6 923.28L500.1 923.98L501.6 924.67L503.1 925.35L504.6 926.03L506.1 926.70L507.6 927.36L509.1 928.02L510.6 928.67L512.1 929.31L513.6 929.95L515.1 930.57L516.6 931.19L518.1 931.81L519.6 932.41L521.1 933.01L522.6 933.60L524.1 934.18L525.6 934.75L527.1 935.32L528.6 935.88L530.1 936.43L531.6 936.97L533.1 937.51L534.6 938.05L536.1 938.58L537.6 939.11L539.1 939.64L540.6 940.17L542.1 940.69L543.6 941.22L545.1 941.75L546.6 942.28L548.1 942.82L549.6 943.36L551.1 943.90L552.6 944.46L554.1 945.01L555.6 945.58L557.1 946.16L558.6 946.74L560.1 947.33L561.6 947.94L563.1 948.56L564.6 949.19L566.1 949.83L567.6 950.49L569.1 951.15L570.6 951.82L572.1 952.50L573.6 953.18L575.1 953.86L576.6 954.55L578.1 955.23L579.6 955.92L581.1 956.60L582.6 957.27L584.1 957.94L585.6 958.60L587.1 959.25L588.6 959.89L590.1 960.52L591.6 961.14L593.1 961.75L594.6 962.35L596.1 962.95L597.6 963.55L599.1 964.16L600.6 964.76L602.1 965.36L603.6 965.98L605.1 966.60L606.6 967.23L608.1 967.87L609.6 968.53L611.1 969.20L612.6 969.89L614.1 970.60L615.6 971.33L617.1 972.08L618.6 972.86L620.1 973.67L621.6 974.50L623.1 975.37L624.6 976.27L626.1 977.21L627.6 978.18L629.1 979.19L630.6 980.22L632.1 981.30L633.6 982.41L635.1 983.55L636.6 984.72L638.1 985.93L639.6 987.16L641.1 988.43L642.6 989.73L644.1 991.07L645.6 992.43L647.1 993.82L648.6 995.25L650.1 996.70L651.6 998.18L653.1 999.69L654.6 1001.21L656.1 1002.74L657.6 1004.28L659.1 1005.83L660.6 1007.38L662.1 1008.92L663.6 1010.46L665.1 1011.98L666.6 1013.48L668.1 1014.96L669.6 1016.41L671.1 1017.83L672.6 1019.22L674.1 1020.56L675.6 1021.87L677.1 1023.12L678.6 1024.34L680.1 1025.52L681.6 1026.66L683.1 1027.76L684.6 1028.82L686.1 1029.85L687.6 1030.85L689.1 1031.81L690.6 1032.74L692.1 1033.63L693.6 1034.50L695.1 1035.34L696.6 1036.15L698.1 1036.94L699.6 1037.70L701.1 1038.43L702.6 1039.14L704.1 1039.83L705.6 1040.50L707.1 1041.15L708.6 1041.78L710.1 1042.39L711.6 1042.99L713.1 1043.57L714.6 1044.14L716.1 1044.69L717.6 1045.22L719.1 1045.74L720.6 1046.25L722.1 1046.74L723.6 1047.22L725.1 1047.68L726.6 1048.13L728.1 1048.57L729.6 1049.00L731.1 1049.41L732.6 1049.81L734.1 1050.20L735.6 1050.58L737.1 1050.94L738.6 1051.30L740.1 1051.64L741.6 1051.97L743.1 1052.30L744.6 1052.61L746.1 1052.91L747.6 1053.21L749.1 1053.49L750.6 1053.77L752.1 1054.03L753.6 1054.29L755.1 1054.55L756.6 1054.79L758.1 1055.03L759.6 1055.26L761.1 1055.48L762.6 1055.69L764.1 1055.90L765.6 1056.11L767.1 1056.31L768.6 1056.50L770.1 1056.69L771.6 1056.87L773.1 1057.05L774.6 1057.22L776.1 1057.39L777.6 1057.56L779.1 1057.72L780.6 1057.88L782.1 1058.04L783.6 1058.19L785.1 1058.35L786.3 1058.47"/>
<path class="mk" d="M68.50 679.12 L73.26 687.38 L63.74 687.38 ZM80.18 673.38 L84.94 681.62 L75.42 681.62 ZM91.86 665.88 L96.62 674.12 L87.10 674.12 ZM103.54 656.12 L108.30 664.38 L98.78 664.38 ZM115.22 646.88 L119.98 655.12 L110.46 655.12 ZM126.90 639.88 L131.66 648.12 L122.14 648.12 ZM138.58 639.62 L143.34 647.88 L133.82 647.88 ZM150.26 639.12 L155.02 647.38 L145.50 647.38 ZM161.94 638.88 L166.70 647.12 L157.18 647.12 ZM173.62 645.12 L178.38 653.38 L168.86 653.38 ZM185.30 658.62 L190.06 666.88 L180.54 666.88 ZM196.98 672.38 L201.74 680.62 L192.22 680.62 ZM208.66 688.62 L213.42 696.88 L203.90 696.88 ZM220.34 706.88 L225.10 715.12 L215.58 715.12 ZM232.02 727.62 L236.78 735.88 L227.26 735.88 ZM243.70 750.12 L248.46 758.38 L238.94 758.38 ZM255.38 766.12 L260.14 774.38 L250.62 774.38 ZM267.06 783.12 L271.82 791.38 L262.30 791.38 ZM278.74 799.38 L283.50 807.62 L273.98 807.62 ZM290.42 816.62 L295.18 824.88 L285.66 824.88 ZM302.10 828.38 L306.86 836.62 L297.34 836.62 ZM313.78 840.88 L318.54 849.12 L309.02 849.12 ZM325.46 849.58 L330.22 857.83 L320.70 857.83 ZM337.14 863.38 L341.90 871.62 L332.38 871.62 ZM348.82 870.88 L353.58 879.12 L344.06 879.12 ZM360.50 885.58 L365.26 893.83 L355.74 893.83 ZM372.18 893.88 L376.94 902.12 L367.42 902.12 ZM383.86 905.27 L388.62 913.52 L379.10 913.52 ZM395.54 913.38 L400.30 921.62 L390.78 921.62 ZM407.22 920.67 L411.98 928.92 L402.46 928.92 ZM418.90 927.77 L423.66 936.02 L414.14 936.02 ZM430.58 936.48 L435.34 944.73 L425.82 944.73 ZM442.26 942.27 L447.02 950.52 L437.50 950.52 ZM453.94 949.98 L458.70 958.23 L449.18 958.23 ZM465.62 956.77 L470.38 965.02 L460.86 965.02 ZM477.30 964.17 L482.06 972.42 L472.54 972.42 ZM488.98 970.38 L493.74 978.62 L484.22 978.62 ZM500.66 975.88 L505.42 984.12 L495.90 984.12 ZM512.34 981.77 L517.10 990.02 L507.58 990.02 ZM524.02 988.88 L528.78 997.12 L519.26 997.12 ZM535.70 993.48 L540.46 1001.73 L530.94 1001.73 ZM547.38 1000.27 L552.14 1008.52 L542.62 1008.52 ZM559.06 1007.67 L563.82 1015.92 L554.30 1015.92 ZM570.74 1011.98 L575.50 1020.23 L565.98 1020.23 ZM582.42 1017.17 L587.18 1025.42 L577.66 1025.42 ZM594.10 1023.08 L598.86 1031.33 L589.34 1031.33 ZM605.78 1029.28 L610.54 1037.53 L601.02 1037.53 ZM617.46 1034.78 L622.22 1043.03 L612.70 1043.03 ZM629.14 1039.38 L633.90 1047.62 L624.38 1047.62 ZM640.82 1042.17 L645.58 1050.42 L636.06 1050.42 ZM652.50 1045.28 L657.26 1053.53 L647.74 1053.53 ZM664.18 1047.47 L668.94 1055.72 L659.42 1055.72 ZM675.86 1049.88 L680.62 1058.12 L671.10 1058.12 ZM687.54 1050.47 L692.30 1058.72 L682.78 1058.72 ZM699.22 1050.78 L703.98 1059.03 L694.46 1059.03 ZM710.90 1051.78 L715.66 1060.03 L706.14 1060.03 ZM722.58 1052.67 L727.34 1060.92 L717.82 1060.92 ZM734.26 1052.97 L739.02 1061.22 L729.50 1061.22 ZM745.94 1053.58 L750.70 1061.83 L741.18 1061.83 ZM757.62 1053.58 L762.38 1061.83 L752.86 1061.83 ZM769.30 1053.58 L774.06 1061.83 L764.54 1061.83 ZM780.98 1053.88 L785.74 1062.12 L776.22 1062.12 Z"/>
<rect x="612.60" y="643.20" width="163.7" height="61.8" rx="1" fill="#fff" stroke="#404040" stroke-width="1.3"/>
<path class="ll" d="M617.20 659.60 h43"/>
<path class="mk" d="M638.30 683.78 L643.06 692.03 L633.54 692.03 Z"/>
<text class="lg" x="663.00" y="669.20" textLength="109.5" lengthAdjust="spacingAndGlyphs">Simulation</text>
<text class="lg" x="663.00" y="699.20" textLength="56.3" lengthAdjust="spacingAndGlyphs">MLIC</text>
</g>
<g>
<path class="ax" d="M943.40 630.80 V1058.70 H1693.10"/>
<path class="ax" d="M1068.35 1058.70 v-6.5M1193.30 1058.70 v-6.5M1318.25 1058.70 v-6.5M1443.20 1058.70 v-6.5M1568.15 1058.70 v-6.5M1693.10 1058.70 v-6.5"/>
<text class="tk" x="943.40" y="1094.30">0</text>
<text class="tk" x="1068.35" y="1094.30">20</text>
<text class="tk" x="1193.30" y="1094.30">40</text>
<text class="tk" x="1318.25" y="1094.30">60</text>
<text class="tk" x="1443.20" y="1094.30">80</text>
<text class="tk" x="1568.15" y="1094.30">100</text>
<text class="tk" x="1693.10" y="1094.30">120</text>
<text class="lb" x="1317.95" y="1133.00" textLength="146.4" lengthAdjust="spacingAndGlyphs">Depth [mm]</text>
<text class="lb" transform="translate(928.40 844.55) rotate(-90)" textLength="180.5" lengthAdjust="spacingAndGlyphs">Arbitrary Units</text>
<text class="tt" x="1132.10" y="618.10" textLength="372.0" lengthAdjust="spacingAndGlyphs">ROI 2 High Energy 168 MeV</text>
<path class="cv" d="M965.4 784.96L966.9 784.29L968.4 783.60L969.9 782.90L971.4 782.18L972.9 781.45L974.4 780.70L975.9 779.93L977.4 779.15L978.9 778.35L980.4 777.53L981.9 776.70L983.4 775.85L984.9 774.98L986.4 774.09L987.9 773.18L989.4 772.26L990.9 771.32L992.4 770.36L993.9 769.37L995.4 768.37L996.9 767.35L998.4 766.31L999.9 765.25L1001.4 764.17L1002.9 763.07L1004.4 761.95L1005.9 760.81L1007.4 759.65L1008.9 758.46L1010.4 757.26L1011.9 756.03L1013.4 754.78L1014.9 753.50L1016.4 752.19L1017.9 750.86L1019.4 749.50L1020.9 748.11L1022.4 746.68L1023.9 745.22L1025.4 743.72L1026.9 742.18L1028.4 740.61L1029.9 738.99L1031.4 737.34L1032.9 735.63L1034.4 733.89L1035.9 732.09L1037.4 730.25L1038.9 728.35L1040.4 726.41L1041.9 724.41L1043.4 722.36L1044.9 720.24L1046.4 718.08L1047.9 715.85L1049.4 713.56L1050.9 711.20L1052.4 708.79L1053.9 706.30L1055.4 703.75L1056.9 701.14L1058.4 698.48L1059.9 695.76L1061.4 693.01L1062.9 690.23L1064.4 687.41L1065.9 684.58L1067.4 681.74L1068.9 678.89L1070.4 676.04L1071.9 673.20L1073.4 670.38L1074.9 667.58L1076.4 664.80L1077.9 662.07L1079.4 659.38L1080.9 656.74L1082.4 654.16L1083.9 651.67L1085.4 649.29L1086.9 647.04L1088.4 644.96L1089.9 643.05L1091.4 641.33L1092.9 639.78L1094.4 638.42L1095.9 637.24L1097.4 636.26L1098.9 635.51L1100.4 635.01L1101.9 634.80L1103.4 634.91L1104.9 635.34L1106.4 636.08L1107.9 637.11L1109.4 638.42L1110.9 639.99L1112.4 641.81L1113.9 643.86L1115.4 646.12L1116.9 648.59L1118.4 651.23L1119.9 654.05L1121.4 657.02L1122.9 660.13L1124.4 663.36L1125.9 666.70L1127.4 670.13L1128.9 673.64L1130.4 677.21L1131.9 680.84L1133.4 684.49L1134.9 688.16L1136.4 691.84L1137.9 695.50L1139.4 699.14L1140.9 702.74L1142.4 706.26L1143.9 709.69L1145.4 713.00L1146.9 716.16L1148.4 719.17L1149.9 722.04L1151.4 724.78L1152.9 727.41L1154.4 729.94L1155.9 732.41L1157.4 734.85L1158.9 737.28L1160.4 739.74L1161.9 742.25L1163.4 744.81L1164.9 747.43L1166.4 750.13L1167.9 752.90L1169.4 755.76L1170.9 758.71L1172.4 761.76L1173.9 764.92L1175.4 768.21L1176.9 771.61L1178.4 775.15L1179.9 778.83L1181.4 782.66L1182.9 786.63L1184.4 790.75L1185.9 795.02L1187.4 799.46L1188.9 804.05L1190.4 808.78L1191.9 813.61L1193.4 818.51L1194.9 823.46L1196.4 828.42L1197.9 833.37L1199.4 838.31L1200.9 843.22L1202.4 848.10L1203.9 852.93L1205.4 857.70L1206.9 862.40L1208.4 867.04L1209.9 871.59L1211.4 876.06L1212.9 880.44L1214.4 884.71L1215.9 888.88L1217.4 892.93L1218.9 896.86L1220.4 900.66L1221.9 904.33L1223.4 907.86L1224.9 911.23L1226.4 914.46L1227.9 917.51L1229.4 920.41L1230.9 923.16L1232.4 925.78L1233.9 928.26L1235.4 930.63L1236.9 932.89L1238.4 935.06L1239.9 937.13L1241.4 939.13L1242.9 941.06L1244.4 942.94L1245.9 944.76L1247.4 946.52L1248.9 948.24L1250.4 949.91L1251.9 951.53L1253.4 953.11L1254.9 954.65L1256.4 956.16L1257.9 957.63L1259.4 959.07L1260.9 960.48L1262.4 961.86L1263.9 963.22L1265.4 964.56L1266.9 965.88L1268.4 967.19L1269.9 968.48L1271.4 969.77L1272.9 971.04L1274.4 972.31L1275.9 973.58L1277.4 974.84L1278.9 976.09L1280.4 977.33L1281.9 978.55L1283.4 979.76L1284.9 980.95L1286.4 982.11L1287.9 983.25L1289.4 984.36L1290.9 985.45L1292.4 986.51L1293.9 987.54L1295.4 988.54L1296.9 989.52L1298.4 990.47L1299.9 991.40L1301.4 992.31L1302.9 993.20L1304.4 994.06L1305.9 994.91L1307.4 995.74L1308.9 996.55L1310.4 997.35L1311.9 998.14L1313.4 998.90L1314.9 999.66L1316.4 1000.41L1317.9 1001.14L1319.4 1001.86L1320.9 1002.58L1322.4 1003.29L1323.9 1003.99L1325.4 1004.68L1326.9 1005.37L1328.4 1006.05L1329.9 1006.72L1331.4 1007.38L1332.9 1008.03L1334.4 1008.68L1335.9 1009.32L1337.4 1009.96L1338.9 1010.58L1340.4 1011.20L1341.9 1011.82L1343.4 1012.42L1344.9 1013.02L1346.4 1013.61L1347.9 1014.20L1349.4 1014.78L1350.9 1015.35L1352.4 1015.92L1353.9 1016.48L1355.4 1017.03L1356.9 1017.58L1358.4 1018.11L1359.9 1018.65L1361.4 1019.18L1362.9 1019.70L1364.4 1020.21L1365.9 1020.72L1367.4 1021.22L1368.9 1021.72L1370.4 1022.21L1371.9 1022.70L1373.4 1023.18L1374.9 1023.65L1376.4 1024.12L1377.9 1024.58L1379.4 1025.04L1380.9 1025.49L1382.4 1025.94L1383.9 1026.38L1385.4 1026.81L1386.9 1027.24L1388.4 1027.67L1389.9 1028.09L1391.4 1028.50L1392.9 1028.91L1394.4 1029.31L1395.9 1029.71L1397.4 1030.11L1398.9 1030.50L1400.4 1030.88L1401.9 1031.26L1403.4 1031.64L1404.9 1032.01L1406.4 1032.38L1407.9 1032.74L1409.4 1033.10L1410.9 1033.45L1412.4 1033.80L1413.9 1034.15L1415.4 1034.49L1416.9 1034.82L1418.4 1035.16L1419.9 1035.49L1421.4 1035.81L1422.9 1036.13L1424.4 1036.45L1425.9 1036.76L1427.4 1037.07L1428.9 1037.38L1430.4 1037.68L1431.9 1037.98L1433.4 1038.27L1434.9 1038.56L1436.4 1038.85L1437.9 1039.14L1439.4 1039.42L1440.9 1039.70L1442.4 1039.97L1443.9 1040.25L1445.4 1040.51L1446.9 1040.78L1448.4 1041.04L1449.9 1041.30L1451.4 1041.56L1452.9 1041.82L1454.4 1042.07L1455.9 1042.32L1457.4 1042.57L1458.9 1042.81L1460.4 1043.05L1461.9 1043.29L1463.4 1043.53L1464.9 1043.76L1466.4 1044.00L1467.9 1044.23L1469.4 1044.46L1470.9 1044.68L1472.4 1044.91L1473.9 1045.13L1475.4 1045.35L1476.9 1045.57L1478.4 1045.78L1479.9 1046.00L1481.4 1046.21L1482.9 1046.42L1484.4 1046.64L1485.9 1046.84L1487.4 1047.05L1488.9 1047.26L1490.4 1047.46L1491.9 1047.67L1493.4 1047.87L1494.9 1048.07L1496.4 1048.27L1497.9 1048.47L1499.4 1048.66L1500.9 1048.86L1502.4 1049.06L1503.9 1049.25L1505.4 1049.44L1506.9 1049.63L1508.4 1049.82L1509.9 1050.01L1511.4 1050.20L1512.9 1050.38L1514.4 1050.57L1515.9 1050.75L1517.4 1050.93L1518.9 1051.11L1520.4 1051.29L1521.9 1051.47L1523.4 1051.64L1524.9 1051.82L1526.4 1051.99L1527.9 1052.16L1529.4 1052.33L1530.9 1052.50L1532.4 1052.67L1533.9 1052.83L1535.4 1053.00L1536.9 1053.16L1538.4 1053.32L1539.9 1053.48L1541.4 1053.64L1542.9 1053.79L1544.4 1053.95L1545.9 1054.10L1547.4 1054.25L1548.9 1054.40L1550.4 1054.55L1551.9 1054.69L1553.4 1054.84L1554.9 1054.98L1556.4 1055.12L1557.9 1055.26L1559.4 1055.40L1560.9 1055.54L1562.4 1055.67L1563.9 1055.80L1565.4 1055.93L1566.9 1056.06L1568.4 1056.19L1569.9 1056.31L1571.4 1056.44L1572.9 1056.56L1574.4 1056.68L1575.9 1056.80L1577.4 1056.91L1578.9 1057.03L1580.4 1057.14L1581.9 1057.25L1583.4 1057.36L1584.9 1057.46L1586.4 1057.57L1587.9 1057.67L1589.4 1057.77L1590.9 1057.87L1592.4 1057.96L1593.9 1058.06L1595.4 1058.15L1596.9 1058.24L1598.4 1058.33L1599.9 1058.42L1601.4 1058.50L1602.9 1058.58L1604.4 1058.66L1605.9 1058.74L1607.4 1058.82L1608.9 1058.89L1610.4 1058.96L1611.9 1059.03L1613.4 1059.10L1614.9 1059.16L1616.4 1059.22L1617.9 1059.28L1619.4 1059.34L1620.9 1059.40L1622.4 1059.45L1623.9 1059.50L1625.4 1059.55L1626.9 1059.60L1628.4 1059.64L1629.9 1059.69L1631.4 1059.73L1632.9 1059.76L1634.4 1059.80L1635.9 1059.83L1637.4 1059.86L1638.9 1059.89L1640.4 1059.92L1641.9 1059.94L1643.4 1059.96L1644.9 1059.98L1646.4 1060.00L1647.9 1060.01L1649.4 1060.02L1650.9 1060.03L1652.4 1060.03L1653.9 1060.04L1655.4 1060.04L1656.9 1060.04L1658.4 1060.03L1659.9 1060.03L1661.4 1060.02L1662.9 1060.01L1664.4 1059.99L1665.9 1059.97L1667.4 1059.95L1668.9 1059.93L1670.4 1059.91L1671.9 1059.88L1673.4 1059.85L1674.9 1059.82L1676.4 1059.78L1677.9 1059.74L1679.4 1059.70L1680.9 1059.66L1682.4 1059.61L1683.9 1059.56L1685.4 1059.51L1686.9 1059.46L1688.4 1059.40L1689.9 1059.34L1691.4 1059.27L1692.3 1059.24"/>
<path class="mk" d="M974.00 735.12 L978.76 743.38 L969.24 743.38 ZM985.68 735.12 L990.44 743.38 L980.92 743.38 ZM997.36 729.62 L1002.12 737.88 L992.60 737.88 ZM1009.04 723.12 L1013.80 731.38 L1004.28 731.38 ZM1020.72 719.88 L1025.48 728.12 L1015.96 728.12 ZM1032.40 705.88 L1037.16 714.12 L1027.64 714.12 ZM1044.08 700.38 L1048.84 708.62 L1039.32 708.62 ZM1055.76 677.62 L1060.52 685.88 L1051.00 685.88 ZM1067.44 665.88 L1072.20 674.12 L1062.68 674.12 ZM1079.12 646.88 L1083.88 655.12 L1074.36 655.12 ZM1090.80 645.62 L1095.56 653.88 L1086.04 653.88 ZM1102.48 646.62 L1107.24 654.88 L1097.72 654.88 ZM1114.16 654.38 L1118.92 662.62 L1109.40 662.62 ZM1125.84 665.12 L1130.60 673.38 L1121.08 673.38 ZM1137.52 701.38 L1142.28 709.62 L1132.76 709.62 ZM1149.20 725.12 L1153.96 733.38 L1144.44 733.38 ZM1160.88 756.38 L1165.64 764.62 L1156.12 764.62 ZM1172.56 783.88 L1177.32 792.12 L1167.80 792.12 ZM1184.24 814.27 L1189.00 822.52 L1179.48 822.52 ZM1195.92 844.48 L1200.68 852.73 L1191.16 852.73 ZM1207.60 876.48 L1212.36 884.73 L1202.84 884.73 ZM1219.28 898.98 L1224.04 907.23 L1214.52 907.23 ZM1230.96 919.88 L1235.72 928.12 L1226.20 928.12 ZM1242.64 928.27 L1247.40 936.52 L1237.88 936.52 ZM1254.32 934.58 L1259.08 942.83 L1249.56 942.83 ZM1266.00 940.17 L1270.76 948.42 L1261.24 948.42 ZM1277.68 947.67 L1282.44 955.92 L1272.92 955.92 ZM1289.36 953.58 L1294.12 961.83 L1284.60 961.83 ZM1301.04 959.88 L1305.80 968.12 L1296.28 968.12 ZM1312.72 964.88 L1317.48 973.12 L1307.96 973.12 ZM1324.40 972.08 L1329.16 980.33 L1319.64 980.33 ZM1336.08 977.08 L1340.84 985.33 L1331.32 985.33 ZM1347.76 982.67 L1352.52 990.92 L1343.00 990.92 ZM1359.44 987.98 L1364.20 996.23 L1354.68 996.23 ZM1371.12 993.58 L1375.88 1001.83 L1366.36 1001.83 ZM1382.80 997.98 L1387.56 1006.23 L1378.04 1006.23 ZM1394.48 1002.98 L1399.24 1011.23 L1389.72 1011.23 ZM1406.16 1008.27 L1410.92 1016.52 L1401.40 1016.52 ZM1417.84 1008.88 L1422.60 1017.12 L1413.08 1017.12 ZM1429.52 1012.98 L1434.28 1021.23 L1424.76 1021.23 ZM1441.20 1016.98 L1445.96 1025.22 L1436.44 1025.22 ZM1452.88 1022.97 L1457.64 1031.22 L1448.12 1031.22 ZM1464.56 1026.38 L1469.32 1034.62 L1459.80 1034.62 ZM1476.24 1029.17 L1481.00 1037.42 L1471.48 1037.42 ZM1487.92 1032.97 L1492.68 1041.22 L1483.16 1041.22 ZM1499.60 1034.88 L1504.36 1043.12 L1494.84 1043.12 ZM1511.28 1036.08 L1516.04 1044.33 L1506.52 1044.33 ZM1522.96 1038.28 L1527.72 1046.53 L1518.20 1046.53 ZM1534.64 1039.17 L1539.40 1047.42 L1529.88 1047.42 ZM1546.32 1040.47 L1551.08 1048.72 L1541.56 1048.72 ZM1558.00 1042.67 L1562.76 1050.92 L1553.24 1050.92 ZM1569.68 1043.88 L1574.44 1052.12 L1564.92 1052.12 ZM1581.36 1044.78 L1586.12 1053.03 L1576.60 1053.03 ZM1593.04 1044.78 L1597.80 1053.03 L1588.28 1053.03 ZM1604.72 1045.47 L1609.48 1053.72 L1599.96 1053.72 ZM1616.40 1046.38 L1621.16 1054.62 L1611.64 1054.62 ZM1628.08 1046.38 L1632.84 1054.62 L1623.32 1054.62 ZM1639.76 1047.28 L1644.52 1055.53 L1635.00 1055.53 ZM1651.44 1047.28 L1656.20 1055.53 L1646.68 1055.53 ZM1663.12 1048.28 L1667.88 1056.53 L1658.36 1056.53 ZM1674.80 1048.28 L1679.56 1056.53 L1670.04 1056.53 ZM1686.48 1049.78 L1691.24 1058.03 L1681.72 1058.03 Z"/>
<rect x="1517.60" y="643.20" width="163.7" height="61.8" rx="1" fill="#fff" stroke="#404040" stroke-width="1.3"/>
<path class="ll" d="M1522.20 659.60 h43"/>
<path class="mk" d="M1543.30 683.78 L1548.06 692.03 L1538.54 692.03 Z"/>
<text class="lg" x="1568.00" y="669.20" textLength="109.5" lengthAdjust="spacingAndGlyphs">Simulation</text>
<text class="lg" x="1568.00" y="699.20" textLength="56.3" lengthAdjust="spacingAndGlyphs">MLIC</text>
</g>
</svg></body></html>
